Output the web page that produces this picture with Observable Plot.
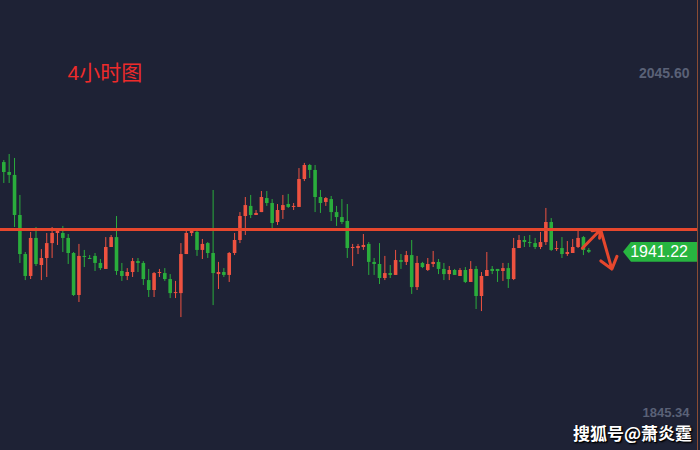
<!DOCTYPE html>
<html><head><meta charset="utf-8">
<script src="https://cdn.jsdelivr.net/npm/d3@7"></script>
<script src="https://cdn.jsdelivr.net/npm/@observablehq/plot@0.6"></script>
<style>
html,body{margin:0;padding:0;background:#1e2235;}
#wrap{position:relative;width:700px;height:450px;overflow:hidden;background:#1e2235;}
#edge{position:absolute;left:697px;top:0;width:1px;height:450px;background:#8a4c34;}
#tag{position:absolute;left:623px;width:74px;height:20px;background:#27b540;color:#fff;font:16px "Liberation Sans",Arial,sans-serif;clip-path:polygon(0 50%,8px 0,100% 0,100% 100%,8px 100%);display:flex;align-items:center;justify-content:flex-end;padding-right:9px;box-sizing:border-box;}
#wm{position:absolute;left:573px;top:424px;color:#fff;font:bold 17px "Noto Sans CJK SC",sans-serif;text-shadow:1px 1px 1px #000,1px 1px 2px #000;white-space:nowrap;line-height:18px;}
</style></head><body><div id="wrap"></div>
<script>
const opens = [
1993.6,1987.8,1986.1,1962.7,1939.9,1927.1,1949.3,1933.5,1937.6,1946.3,
1952.2,1952.2,1949.3,1940.5,1916.0,1938.8,1937.6,1938.8,1934.7,1931.2,
1944.0,1949.8,1930.0,1927.1,1929.4,1935.8,1934.7,1924.7,1918.9,1928.8,
1928.8,1925.3,1917.1,1917.1,1939.9,1952.2,1952.8,1942.3,1946.3,1940.5,
1928.2,1929.4,1927.7,1940.5,1948.1,1962.1,1968.0,1962.7,1964.4,1972.6,
1969.7,1958.6,1965.6,1969.1,1967.4,1967.4,1983.7,1991.9,1989.0,1973.2,
1970.3,1972.0,1964.4,1961.5,1959.2,1943.4,1943.4,1944.0,1945.8,1935.3,
1934.1,1925.9,1928.8,1927.7,1936.4,1935.3,1939.3,1920.6,1934.7,1930.6,
1934.1,1935.3,1931.2,1928.2,1930.6,1927.1,1930.6,1923.6,1931.2,1915.4,
1927.1,1931.2,1931.2,1930.0,1931.7,1925.3,1943.4,1948.1,1946.9,1946.3,
1944.0,1946.9,1958.6,1942.8,1943.4,1939.9,1940.5,1944.0,1949.8,1942.3];
const highs = [
1994.8,1998.3,1996.0,1974.4,1941.1,1952.8,1955.7,1942.8,1952.2,1955.7,
1953.9,1956.3,1951.6,1941.1,1945.8,1942.3,1939.3,1940.5,1937.0,1949.8,
1951.0,1962.1,1934.7,1931.7,1937.6,1937.6,1935.8,1931.2,1929.4,1931.2,
1931.7,1928.2,1924.2,1946.3,1953.9,1953.9,1953.9,1948.7,1946.9,1977.3,
1935.3,1931.7,1941.1,1952.2,1964.4,1973.2,1974.4,1965.6,1976.7,1976.7,
1972.0,1969.1,1974.4,1975.0,1969.7,1990.1,1993.1,1992.5,1991.9,1977.3,
1973.2,1973.8,1968.0,1972.0,1969.1,1945.8,1945.8,1951.6,1946.9,1937.6,
1946.3,1938.8,1933.5,1942.3,1939.9,1941.7,1948.1,1938.8,1935.3,1937.6,
1941.7,1937.0,1934.7,1932.9,1931.2,1931.7,1932.3,1935.8,1932.9,1929.4,
1941.1,1932.9,1931.2,1934.7,1934.7,1949.3,1951.0,1950.4,1951.0,1949.3,
1952.8,1966.8,1960.9,1947.5,1949.8,1947.5,1948.7,1953.4,1950.4,1943.4];
const lows = [
1981.4,1981.4,1955.7,1934.7,1924.7,1925.3,1932.9,1924.7,1926.5,1937.6,
1945.2,1941.1,1934.1,1915.4,1911.9,1932.3,1937.0,1930.0,1930.6,1931.2,
1944.0,1927.7,1924.2,1924.7,1926.5,1929.4,1921.8,1914.8,1914.8,1926.5,
1924.2,1914.2,1914.2,1903.1,1939.9,1950.4,1938.8,1937.0,1937.6,1910.1,
1919.5,1926.5,1923.6,1939.3,1946.3,1951.0,1960.9,1962.7,1964.4,1968.0,
1955.1,1956.9,1960.4,1966.8,1965.6,1967.4,1982.5,1984.3,1964.4,1963.9,
1968.0,1959.2,1956.3,1957.4,1937.6,1932.9,1939.9,1942.3,1927.7,1927.7,
1922.4,1924.7,1925.9,1927.7,1931.2,1933.5,1916.6,1918.9,1931.7,1930.0,
1932.3,1928.2,1924.7,1924.7,1927.7,1927.1,1923.0,1923.6,1907.8,1906.6,
1927.1,1928.2,1923.6,1924.2,1920.1,1924.7,1943.4,1944.0,1944.0,1942.8,
1942.8,1945.2,1941.7,1941.7,1937.6,1938.8,1940.5,1943.4,1939.3,1940.5];
const closes = [
1987.8,1986.1,1962.7,1939.9,1927.1,1949.3,1934.1,1937.6,1946.3,1952.2,
1953.4,1949.3,1940.5,1916.0,1938.8,1938.2,1937.0,1934.7,1931.7,1944.0,
1949.8,1930.0,1927.1,1929.4,1935.8,1934.7,1925.3,1918.9,1928.8,1929.4,
1925.3,1917.1,1917.7,1939.9,1952.2,1953.9,1942.3,1945.8,1940.5,1928.8,
1929.4,1927.7,1940.5,1948.1,1962.1,1968.5,1962.7,1963.9,1973.2,1969.7,
1958.0,1965.6,1968.5,1967.4,1968.0,1983.7,1991.9,1989.0,1973.2,1969.7,
1972.6,1964.4,1961.5,1958.6,1943.4,1944.0,1944.6,1945.2,1935.3,1934.1,
1925.9,1928.8,1927.7,1936.4,1935.3,1939.3,1920.6,1934.7,1932.3,1934.1,
1935.3,1931.2,1928.2,1930.6,1927.7,1930.6,1923.6,1931.2,1915.4,1927.1,
1930.6,1930.0,1930.0,1931.7,1925.3,1943.4,1948.1,1946.9,1946.3,1944.0,
1946.9,1958.6,1942.3,1943.4,1939.9,1941.1,1944.0,1949.3,1942.3,1941.22];

const yTickValues = [2045.60, 1845.34];
const yTickLabels = ["2045.60", "1845.34"];
const resistance = 1954.5;
const titleText = "4小时图";
const watermark = "搜狐号@萧炎霆";
// hand-drawn arrows (candle index, price)
const arrowX1 = [107.8, 111.2];
const arrowY1 = [1943.6, 1954.5];
const arrowX2 = [111.2, 113.3];
const arrowY2 = [1954.5, 1931.4];

const RED = "#ee5240", GREEN = "#2aad3c", LINE = "#e6472d";
const data = opens.map((o, i) => ({i, open: o, high: highs[i], low: lows[i], close: closes[i]}));
const col = d => d.close >= d.open ? RED : GREEN;
const arrows = arrowX1.map((x, k) => ({x1: x, y1: arrowY1[k], x2: arrowX2[k], y2: arrowY2[k]}));
const ticks = yTickValues.map((v, k) => ({v, t: yTickLabels[k]}));

const chart = Plot.plot({
  width: 700, height: 450,
  marginTop: 0, marginLeft: 0, marginBottom: 0, marginRight: 3,
  style: {background: "transparent", overflow: "visible"},
  x: {axis: null, domain: [0, data.length - 1], range: [3.3, 588.3]},
  y: {axis: null, domain: [1845.34, 2045.60], range: [416, 73]},
  marks: [
    Plot.ruleX(data, {x: "i", y1: "low", y2: "high", stroke: col, strokeWidth: 1}),
    Plot.ruleX(data, {x: "i", y1: "open", y2: "close", stroke: col, strokeWidth: 3.6}),
    Plot.ruleY([resistance], {stroke: LINE, strokeWidth: 3}),
    Plot.text(ticks.slice(0, 1), {y: "v", text: "t", frameAnchor: "right", textAnchor: "end", dx: -8,
      fill: "#5a6177", fontSize: 14, fontWeight: "bold", fontFamily: "Liberation Sans, Arial, sans-serif"}),
    Plot.text(ticks.slice(1), {y: "v", text: "t", frameAnchor: "right", textAnchor: "end", dx: -8, dy: -4,
      fill: "#5a6177", fontSize: 13, fontWeight: "bold", fontFamily: "Liberation Sans, Arial, sans-serif"}),
    Plot.text([titleText], {frameAnchor: "top-left", dx: 67, dy: 73, textAnchor: "start", lineAnchor: "middle",
      fill: "#ee2b2b", fontSize: 21, fontFamily: "Liberation Sans, Noto Sans CJK SC, sans-serif"}),
    Plot.arrow(arrows, {x1: "x1", y1: "y1", x2: "x2", y2: "y2", stroke: LINE, strokeWidth: 3, headLength: 16, headAngle: 75})
  ]
});

const wrap = document.getElementById("wrap");
wrap.appendChild(chart);
const edge = document.createElement("div"); edge.id = "edge"; wrap.appendChild(edge);
const last = closes[closes.length - 1];
const tag = document.createElement("div"); tag.id = "tag";
tag.textContent = last.toFixed(2);
tag.style.top = (chart.scale("y").apply(last) - 10) + "px";
wrap.appendChild(tag);
const wm = document.createElement("div"); wm.id = "wm"; wm.textContent = watermark; wrap.appendChild(wm);
</script></body></html>
